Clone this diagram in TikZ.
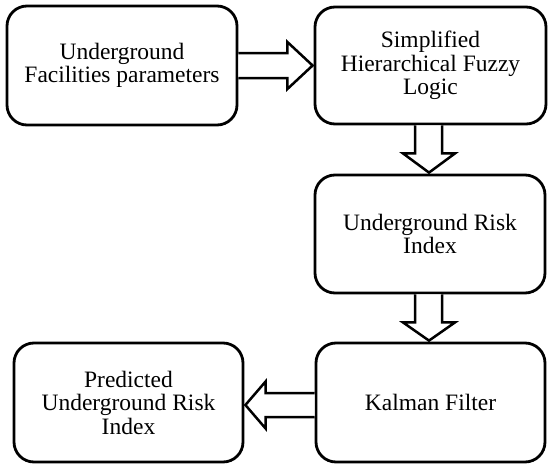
\documentclass[tikz,border=0pt]{standalone}
\usepackage{fontspec}
\setmainfont{Liberation Serif}
\usetikzlibrary{calc}
\tikzset{
  box/.style={draw, line width=2.8pt, rounded corners=20pt, align=center,
    font=\fontsize{23.5}{23.5}\selectfont, inner sep=0pt},
  barrow/.style={draw, line width=2.5pt, line join=miter, fill=white}
}
\begin{document}
\begin{tikzpicture}[x=1pt,y=-1pt]
\useasboundingbox (0,0) rectangle (550,469);
\node[box, minimum width=230pt, minimum height=119pt] (b1) at (122,65.5) {Underground\\Facilities parameters};
\node[box, minimum width=231pt, minimum height=117pt] (b2) at (430.5,65.5) {Simplified\\Hierarchical Fuzzy\\Logic};
\node[box, minimum width=230pt, minimum height=118pt] (b3) at (430,234) {Underground Risk\\Index};
\node[box, minimum width=229pt, minimum height=119pt] (b4) at (430.5,402.5) {Kalman Filter};
\node[box, minimum width=229pt, minimum height=119pt] (b5) at (128.5,402.5) {Predicted\\Underground Risk\\Index};
% right arrow b1 -> b2
\draw[barrow] ($(b1.east)+(0,-12.5)$) -- ++(49,0) -- ++(0,-11) -- ($(b2.west)+(-1,0)$)
  -- ($(b1.east)+(49,23.5)$) -- ++(0,-11) -- ($(b1.east)+(0,12.5)$);
% down arrow b2 -> b3
\draw[barrow] ($(b2.south)+(-15.5,0)$) -- ++(0,28) -- ++(-12,0) -- ($(b3.north)+(-1,-1)$)
  -- ($(b2.south)+(24.5,28)$) -- ++(-13,0) -- ($(b2.south)+(11.5,0)$);
% down arrow b3 -> b4
\draw[barrow] ($(b3.south)+(-15,0)$) -- ++(0,28) -- ++(-12,0) -- ($(b4.north)+(-1.5,-1)$)
  -- ($(b3.south)+(25,28)$) -- ++(-13,0) -- ($(b3.south)+(12,0)$);
% left arrow b4 -> b5
\draw[barrow] ($(b4.west)+(0,-9.5)$) -- ++(-49,0) -- ++(0,-11.5) -- ($(b5.east)+(1,2.5)$)
  -- ($(b4.west)+(-49,26)$) -- ++(0,-11.5) -- ($(b4.west)+(0,14.5)$);
\end{tikzpicture}
\end{document}
